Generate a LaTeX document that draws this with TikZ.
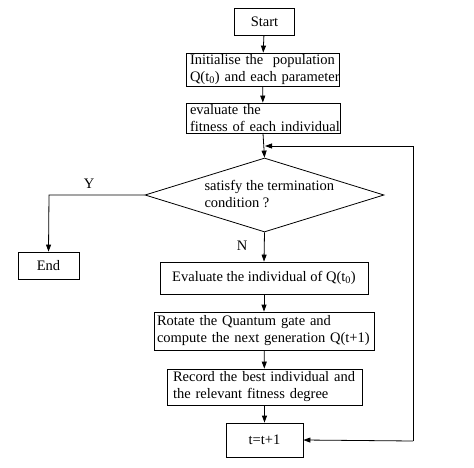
\documentclass[tikz,border=0pt]{standalone}
\usepackage{fontspec}
\setmainfont{Liberation Serif}
\usetikzlibrary{arrows.meta,shapes.geometric}
\begin{document}
\begin{tikzpicture}[x=1pt,y=-1pt,
  box/.style={draw,line width=0.8pt,inner ysep=0pt,font=\fontsize{14.5}{17}\selectfont},
  lbox/.style={box,align=left,inner xsep=#1},
  arr/.style={line width=0.8pt,-{Triangle[length=7pt,width=5pt]}},
  lbl/.style={font=\fontsize{14.5}{17}\selectfont}]
\useasboundingbox (0,0) rectangle (474,468);
\node[box,minimum width=60pt,minimum height=27pt,align=center] (start) at (264.5,21.5) {Start};
\node[lbox=4pt,text width=145pt,minimum height=33pt] (init) at (262.5,69.5) {\mbox{Initialise the\ \ population}\\\mbox{Q(t\textsubscript{0}) and each parameter}};
\node[lbox=4pt,text width=146pt,minimum height=30pt] (eval) at (263,118) {\mbox{evaluate the}\\\mbox{fitness of each individual}};
\node[draw,line width=0.8pt,diamond,minimum width=239pt,minimum height=74pt,inner sep=0pt,aspect=3.2] (cond) at (264.5,195) {};
\node[lbl,align=left,anchor=west] (condtxt) at (201,194) {satisfy the termination\\condition ?};
\node[box,minimum width=61pt,minimum height=27pt,align=center] (end) at (48.5,265.5) {End};
\node[box,minimum width=208pt,minimum height=32pt,align=center] (evind) at (264,278) {Evaluate the individual of Q(t\textsubscript{0})};
\node[lbox=3pt,text width=214pt,minimum height=38pt] (rot) at (264,331) {\mbox{Rotate the Quantum gate and}\\\mbox{compute the next generation Q(t+1)}};
\node[lbox=6pt,text width=183pt,minimum height=36pt] (rec) at (264.5,387) {\mbox{Record the best individual and}\\\mbox{the relevant fitness degree}};
\node[box,minimum width=77pt,minimum height=34pt,align=center] (tt) at (264.5,440) {t=t+1};
\coordinate (junc) at (265,146);
\coordinate (loopTop) at (413,146);
\coordinate (loopBot) at (413,441);
\coordinate (leftc) at (49,195);
\node[lbl] (ylbl) at (89,184) {Y};
\node[lbl] (nlbl) at (242,246) {N};
\draw[arr] (start) -- (init);
\draw[arr] (init) -- (eval);
\draw[arr] (eval.south) -- (cond.north);
\draw[arr] (cond.west) -- (leftc) -- (end.north);
\draw[arr] (cond.south) -- (evind.north);
\draw[arr] (evind) -- (rot);
\draw[arr] (rot) -- (rec);
\draw[arr] (rec) -- (tt);
\draw[arr] (loopBot) -- (tt.east);
\draw[arr] (loopBot) -- (loopTop) -- (junc);
\end{tikzpicture}
\end{document}
